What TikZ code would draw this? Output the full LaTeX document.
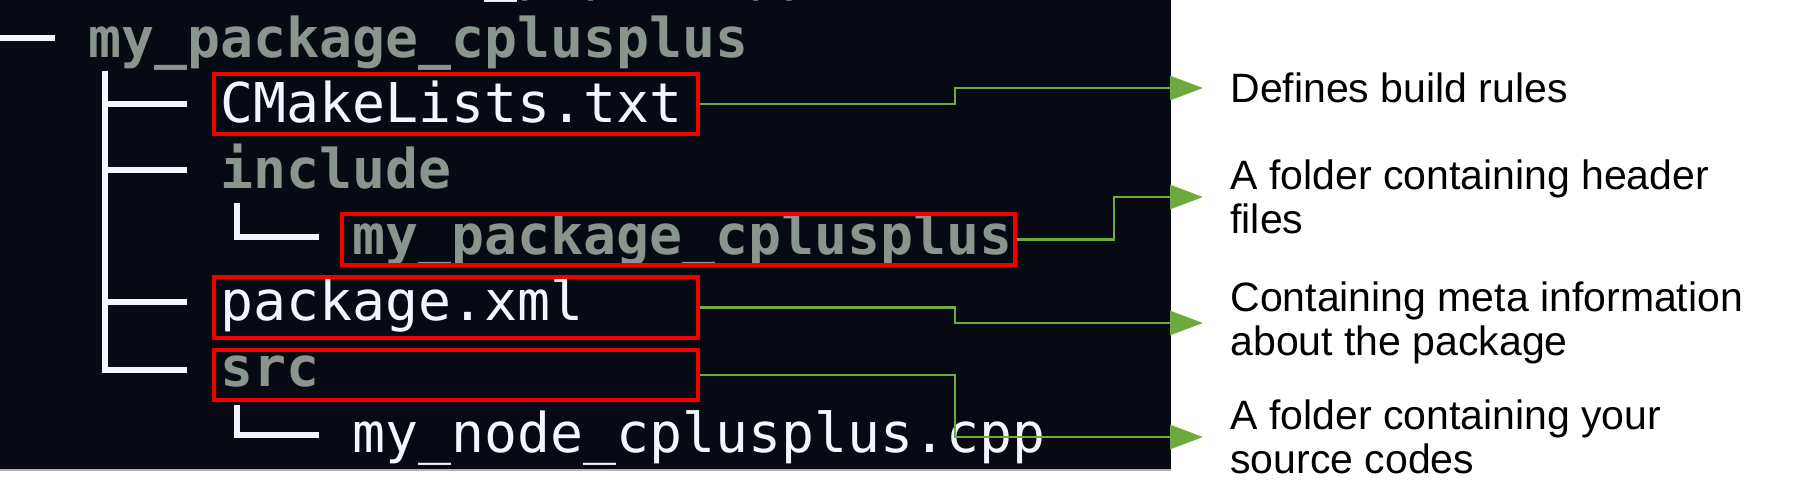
\documentclass[tikz,border=0pt]{standalone}
\usepackage{fontspec}
\setmainfont{Liberation Sans}
\newfontfamily\termfont{DejaVu Sans Mono}
\usetikzlibrary{arrows.meta,fit}
\definecolor{termbg}{HTML}{070A12}
\definecolor{dirgray}{HTML}{8A958D}
\definecolor{filewhite}{HTML}{F2F6FF}
\definecolor{boxred}{HTML}{F00000}
\definecolor{conngreen}{HTML}{6EAA3E}
\begin{document}
\begin{tikzpicture}[x=0.5pt,y=-0.5pt,
  term/.style={anchor=base west, inner sep=0pt, font=\termfont\fontsize{27.4}{30}\selectfont},
  dir/.style={term, text=dirgray, font=\termfont\bfseries\fontsize{27.4}{30}\selectfont},
  file/.style={term, text=filewhite},
  treeline/.style={draw=filewhite, line width=3.3pt},
  redbox/.style={draw=boxred, line width=2pt, inner sep=0pt, rectangle},
  conn/.style={draw=conngreen, line width=1.4pt, -{Triangle[length=16.5pt,width=12pt]}, shorten >=13.5pt},
  lbl/.style={anchor=west, inner sep=0pt, align=left, font=\fontsize{20.5}{22}\selectfont, text=black}
]
\useasboundingbox (0,0) rectangle (1800,494);
\clip (0,0) rectangle (1800,494);
\fill[white] (0,0) rectangle (1800,494);
\fill[termbg] (0,0) rectangle (1171,470);
\draw[gray!60, line width=0.7pt] (0,470) -- (1171,470);

% terminal text (the line above is cut off by the top edge, as in the reference)
\node[file] (pep) at (352,-11) {test\_pep257.py};
\node[dir] (root) at (88,57) {my\_package\_cplusplus};
\node[file] (cmake) at (220,122) {CMakeLists.txt};
\node[dir] (incl) at (220,188) {include};
\node[dir] (incpkg) at (352,254) {my\_package\_cplusplus};
\node[file] (pkgxml) at (220,320) {package.xml};
\node[dir] (src) at (220,386) {src};
\node[file] (cpp) at (352,452) {my\_node\_cplusplus.cpp};

% tree lines
\draw[treeline] (-5,38) -- (55,38);
\draw[treeline] (105,71) -- (105,370) -- (187,370);
\draw[treeline] (105,104) -- (187,104);
\draw[treeline] (105,170) -- (187,170);
\draw[treeline] (105,302) -- (187,302);
\draw[treeline] (237,203) -- (237,237) -- (319,237);
\draw[treeline] (237,405) -- (237,435) -- (319,435);

% red boxes
\node[redbox, fit={(214,74) (698,134)}] (bcmake) {};
\node[redbox, fit={(342,214) (1015,265)}] (bincpkg) {};
\node[redbox, fit={(214,277) (698,338)}] (bpkgxml) {};
\node[redbox, fit={(214,350) (698,400)}] (bsrc) {};

% labels
\node[lbl] (l1) at (1230,88) {Defines build rules};
\node[lbl] (l2) at (1230,197) {A folder containing header\\files};
\node[lbl] (l3) at (1230,323) {Containing meta information\\about the package};
\node[lbl] (l4) at (1230,437) {A folder containing your\\source codes};

% connectors
\coordinate (k1) at (955,0);
\coordinate (k2) at (1114,0);
\draw[conn] (bcmake.east) -- (bcmake.east -| k1) |- (l1.west);
\draw[conn] (bincpkg.east) -- (bincpkg.east -| k2) |- (l2.west);
\draw[conn] (bpkgxml.east) -- (bpkgxml.east -| k1) |- (l3.west);
\draw[conn] (bsrc.east) -- (bsrc.east -| k1) |- (l4.west);
\end{tikzpicture}
\end{document}
